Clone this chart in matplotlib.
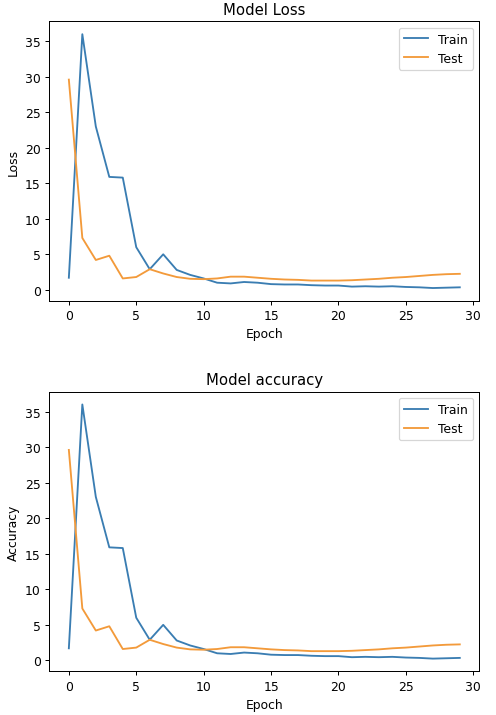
import matplotlib
matplotlib.use("Agg")
import matplotlib.pyplot as plt

epochs = list(range(30))
train = [1.7, 36.0, 23.0, 15.9, 15.8, 6.0, 2.9, 5.0, 2.8, 2.1, 1.6, 1.0, 0.9, 1.1, 1.0,
         0.8, 0.75, 0.75, 0.65, 0.6, 0.6, 0.45, 0.5, 0.45, 0.5, 0.4, 0.35, 0.25, 0.3, 0.35]
test = [29.6, 7.3, 4.2, 4.8, 1.6, 1.8, 2.9, 2.3, 1.8, 1.55, 1.5, 1.6, 1.85, 1.85, 1.7,
        1.55, 1.45, 1.4, 1.3, 1.3, 1.3, 1.35, 1.45, 1.55, 1.7, 1.8, 1.95, 2.1, 2.2, 2.25]
titles = ["Model Loss", "Model accuracy"]
ylabels = ["Loss", "Accuracy"]
legend_labels = ["Train", "Test"]
colors = ["#3a7db2", "#f39a3a"]

DPI = 89
fig = plt.figure(figsize=(496 / DPI, 716 / DPI), dpi=DPI)
positions = [[0.0994, 0.5786, 0.867, 0.390], [0.0994, 0.061, 0.867, 0.3905]]
for pos, title, ylab in zip(positions, titles, ylabels):
    ax = fig.add_axes(pos)
    ax.plot(epochs, train, label=legend_labels[0], color=colors[0])
    ax.plot(epochs, test, label=legend_labels[1], color=colors[1])
    ax.set_title(title)
    ax.set_ylabel(ylab)
    ax.set_xlabel("Epoch")
    ax.legend(loc="upper right")

fig.savefig("out.png", dpi=DPI)
